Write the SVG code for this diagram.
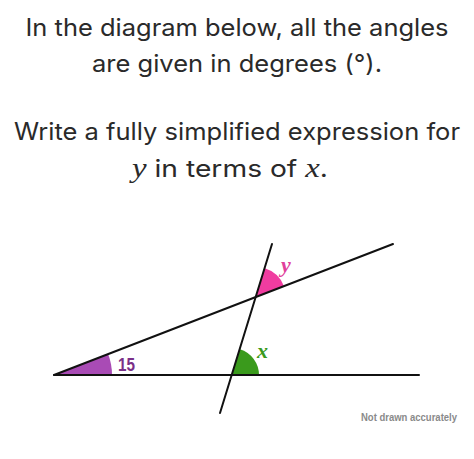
<svg xmlns="http://www.w3.org/2000/svg" width="474" height="459" viewBox="0 0 474 459">
<style>
.t{font-family:"Inter","Open Sans","DejaVu Sans",sans-serif;font-size:24px;fill:#2a2a2a;text-anchor:middle}
.m{font-family:"Liberation Serif","DejaVu Serif",serif;font-style:italic}
.ln{stroke:#111;stroke-width:2;fill:none;stroke-linecap:round}
</style>
<rect width="474" height="459" fill="#fff"/>
<g id="question">
<text class="t" x="237" y="36" textLength="423" lengthAdjust="spacingAndGlyphs">In the diagram below, all the angles</text>
<text class="t" x="237" y="72" textLength="290" lengthAdjust="spacingAndGlyphs">are given in degrees (°).</text>
<text class="t" x="237" y="140" textLength="446" lengthAdjust="spacingAndGlyphs">Write a fully simplified expression for</text>
<text class="t" x="230" y="177" textLength="196" lengthAdjust="spacingAndGlyphs"><tspan class="m" font-size="28">y</tspan> in terms of <tspan class="m" font-size="28">x</tspan>.</text>
</g>
<g id="angle-15">
<path d="M54,375 L112,375 A58,58 0 0 0 108.1,354.1 Z" fill="#a94bb5"/>
<text x="118" y="371" font-family="Liberation Sans,Arial,sans-serif" font-size="19" font-weight="bold" fill="#7a2f88" textLength="17" lengthAdjust="spacingAndGlyphs">15</text>
</g>
<g id="angle-x">
<path d="M232,375 L259,375 A27,27 0 0 0 239.9,349.2 Z" fill="#3a9a1c"/>
<text x="257" y="358" class="m" font-size="22" font-weight="bold" fill="#3a9a1c">x</text>
</g>
<g id="angle-y">
<path d="M256,297 L284,286.2 A30,30 0 0 0 264.8,268.3 Z" fill="#f03ca0"/>
<text x="281" y="272" class="m" font-size="22" font-weight="bold" fill="#e0409a">y</text>
</g>
<g id="connectors">
<line class="ln" x1="54" y1="375" x2="419" y2="375"/>
<line class="ln" x1="54" y1="375" x2="393" y2="244"/>
<line class="ln" x1="272" y1="244" x2="220" y2="413"/>
</g>
<text x="361" y="421" font-family="Liberation Sans,Arial,sans-serif" font-size="11" font-weight="bold" fill="#8a8a8a" textLength="96" lengthAdjust="spacingAndGlyphs">Not drawn accurately</text>
</svg>
